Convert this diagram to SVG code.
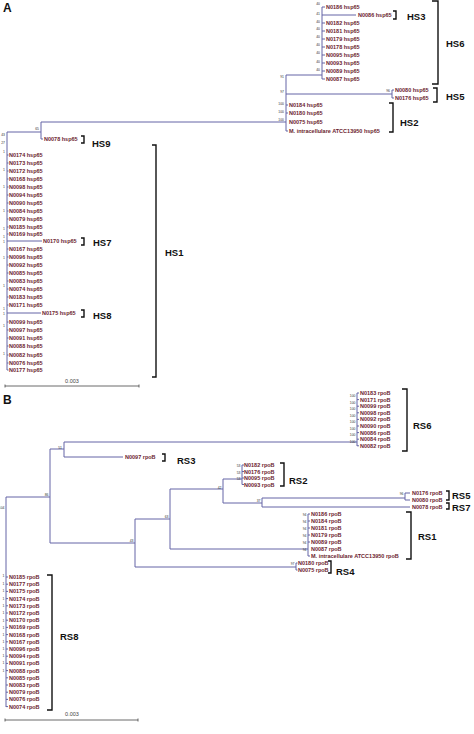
<svg xmlns="http://www.w3.org/2000/svg" width="474" height="734" viewBox="0 0 474 734">
<style>
.br{fill:none;stroke:#6464a6;stroke-width:1}
.bk{fill:none;stroke:#111;stroke-width:1.4}
.lf{font-family:"Liberation Sans",Arial,sans-serif;font-size:5.5px;font-weight:bold;fill:#6b1d2e}
.bs{font-family:"Liberation Sans",Arial,sans-serif;font-size:3.4px;fill:#333;text-anchor:end}
.cl{font-family:"Liberation Sans",Arial,sans-serif;font-size:9.5px;font-weight:bold;fill:#111}
.pn{font-family:"Liberation Sans",Arial,sans-serif;font-size:12px;font-weight:bold;fill:#111}
.sc{font-family:"Liberation Sans",Arial,sans-serif;font-size:5.5px;fill:#444;text-anchor:middle}
.sb{fill:none;stroke:#444;stroke-width:0.8}
</style>
<rect width="474" height="734" fill="#fff"/>
<text class="pn" x="3" y="12">A</text>
<text class="pn" x="3" y="404">B</text>

<g id="connectors">
<!-- Panel A -->
<path class="br" d="M7,132V370 M7,132H41 M41,122V139 M41,139H43 M41,122H286 M286,75V131 M286,75H322 M322,7V79 M322,15H356 M286,94H392 M392,90V98"/>
<path class="br" d="M322,7H325 M322,23H325 M322,31H325 M322,39H325 M322,47H325 M322,55H325 M322,63H325 M322,71H325 M322,79H325 M392,90H394 M392,98H394 M286,105H288 M286,113H288 M286,131H288"/>
<path class="br" d="M7,155H8.5 M7,163H8.5 M7,171H8.5 M7,179H8.5 M7,187H8.5 M7,195H8.5 M7,203H8.5 M7,211H8.5 M7,219H8.5 M7,227H8.5 M7,234H8.5 M7,241H42 M7,249H8.5 M7,257H8.5 M7,265H8.5 M7,273H8.5 M7,281H8.5 M7,289H8.5 M7,297H8.5 M7,305H8.5 M7,313H41 M7,322H8.5 M7,330H8.5 M7,338H8.5 M7,346H8.5 M7,355H8.5 M7,363H8.5 M7,370H8.5"/>
<!-- Panel B -->
<path class="br" d="M6,497V707 M6,497H50 M50,449V543 M50,449H64 M64,442V457 M64,442H357 M64,457H123 M357,393V446 M50,543H135 M135,519V567 M135,519H170 M135,567H296 M296,563V570 M170,489V549 M170,549H308 M308,514V556 M170,489H223 M223,479V503 M223,479H242 M242,465V484.5 M223,503H262 M262,498V507 M262,498H405 M405,493V500 M262,507H410"/>
<path class="br" d="M357,393H359 M357,399.6H359 M357,406.2H359 M357,412.8H359 M357,419.4H359 M357,426H359 M357,432.6H359 M357,439.2H359 M357,445.8H359 M242,465H244 M242,471.5H244 M242,478H244 M242,484.5H244 M405,493H410 M405,500H410 M308,514H310 M308,521H310 M308,528H310 M308,535H310 M308,542H310 M308,556H310 M296,563H297.5 M296,570H297.5"/>
<path class="br" d="M6,577H8 M6,584.2H8 M6,591.4H8 M6,598.6H8 M6,605.8H8 M6,613H8 M6,620.2H8 M6,627.4H8 M6,634.6H8 M6,641.8H8 M6,649H8 M6,656.2H8 M6,663.4H8 M6,670.6H8 M6,677.8H8 M6,685H8 M6,692.2H8 M6,699.4H8 M6,706.6H8"/>
</g>

<g id="scalebars">
<path class="sb" d="M5,386H139 M5,384.5V387.5 M139,384.5V387.5"/>
<text class="sc" x="72" y="383">0.003</text>
<path class="sb" d="M5,720H138 M5,718.5V721.5 M138,718.5V721.5"/>
<text class="sc" x="72" y="716">0.003</text>
</g>

<g id="bootstrapA">
<text class="bs" x="320" y="5">40</text>
<text class="bs" x="320" y="15">41</text>
<text class="bs" x="320" y="23">40</text>
<text class="bs" x="320" y="30">40</text>
<text class="bs" x="320" y="38">40</text>
<text class="bs" x="320" y="46">40</text>
<text class="bs" x="320" y="54">40</text>
<text class="bs" x="320" y="63">40</text>
<text class="bs" x="320" y="71">40</text>
<text class="bs" x="284" y="78">91</text>
<text class="bs" x="284" y="93">97</text>
<text class="bs" x="284" y="105">100</text>
<text class="bs" x="284" y="113">100</text>
<text class="bs" x="284" y="121">100</text>
<text class="bs" x="390" y="92">96</text>
<text class="bs" x="39" y="130">65</text>
<text class="bs" x="5" y="136">43</text>
<text class="bs" x="5" y="144">27</text>
<text class="bs" x="5" y="153">1</text>
<text class="bs" x="5" y="171">1</text>
<text class="bs" x="5" y="188">1</text>
<text class="bs" x="5" y="212">1</text>
<text class="bs" x="5" y="230">1</text>
<text class="bs" x="5" y="238">1</text>
<text class="bs" x="5" y="243">1</text>
<text class="bs" x="5" y="259">1</text>
<text class="bs" x="5" y="287">1</text>
<text class="bs" x="5" y="310">1</text>
<text class="bs" x="5" y="315">1</text>
<text class="bs" x="5" y="327">1</text>
<text class="bs" x="5" y="355">1</text>
</g>

<g id="bootstrapB">
<text class="bs" x="355.5" y="397">100</text>
<text class="bs" x="355.5" y="403.5">100</text>
<text class="bs" x="355.5" y="410">100</text>
<text class="bs" x="355.5" y="416.5">100</text>
<text class="bs" x="355.5" y="423">100</text>
<text class="bs" x="355.5" y="429.5">100</text>
<text class="bs" x="355.5" y="436">100</text>
<text class="bs" x="355.5" y="442.5">100</text>
<text class="bs" x="62" y="449">51</text>
<text class="bs" x="48.5" y="496">86</text>
<text class="bs" x="133.5" y="542">43</text>
<text class="bs" x="168.5" y="518">63</text>
<text class="bs" x="221.5" y="489">42</text>
<text class="bs" x="260.5" y="502">37</text>
<text class="bs" x="240.5" y="467">53</text>
<text class="bs" x="240.5" y="473.5">53</text>
<text class="bs" x="240.5" y="480">53</text>
<text class="bs" x="403.5" y="495">96</text>
<text class="bs" x="306.5" y="516">94</text>
<text class="bs" x="306.5" y="523">94</text>
<text class="bs" x="306.5" y="530">94</text>
<text class="bs" x="306.5" y="537">94</text>
<text class="bs" x="306.5" y="544">94</text>
<text class="bs" x="306.5" y="551">94</text>
<text class="bs" x="294.5" y="565">97</text>
<text class="bs" x="4.5" y="509">104</text>
<text class="bs" x="4.5" y="577">1</text>
<text class="bs" x="4.5" y="585">1</text>
<text class="bs" x="4.5" y="592">1</text>
<text class="bs" x="4.5" y="600">1</text>
<text class="bs" x="4.5" y="607">1</text>
<text class="bs" x="4.5" y="614">1</text>
<text class="bs" x="4.5" y="622">1</text>
<text class="bs" x="4.5" y="629">1</text>
<text class="bs" x="4.5" y="636">1</text>
<text class="bs" x="4.5" y="643">1</text>
<text class="bs" x="4.5" y="650">1</text>
<text class="bs" x="4.5" y="657">1</text>
<text class="bs" x="4.5" y="664">1</text>
<text class="bs" x="4.5" y="672">1</text>
</g>

<!-- Panel A leaves -->
<g id="A_HS6">
<text class="lf" x="326" y="9">N0186 hsp65</text>
<text class="lf" x="358" y="17">N0086 hsp65</text>
<text class="lf" x="326" y="25">N0182 hsp65</text>
<text class="lf" x="326" y="33">N0181 hsp65</text>
<text class="lf" x="326" y="41">N0179 hsp65</text>
<text class="lf" x="326" y="49">N0178 hsp65</text>
<text class="lf" x="326" y="57">N0095 hsp65</text>
<text class="lf" x="326" y="65">N0093 hsp65</text>
<text class="lf" x="326" y="73">N0089 hsp65</text>
<text class="lf" x="326" y="81">N0087 hsp65</text>
</g>
<g id="A_HS5">
<text class="lf" x="395" y="92">N0080 hsp65</text>
<text class="lf" x="395" y="100">N0176 hsp65</text>
</g>
<g id="A_HS2">
<text class="lf" x="289" y="107">N0184 hsp65</text>
<text class="lf" x="289" y="115">N0180 hsp65</text>
<text class="lf" x="289" y="124">N0075 hsp65</text>
<text class="lf" x="289" y="133">M. intracellulare ATCC13950 hsp65</text>
</g>
<g id="A_HS9"><text class="lf" x="44" y="141">N0078 hsp65</text></g>
<g id="A_HS1">
<text class="lf" x="9" y="157">N0174 hsp65</text>
<text class="lf" x="9" y="165">N0173 hsp65</text>
<text class="lf" x="9" y="173">N0172 hsp65</text>
<text class="lf" x="9" y="181">N0168 hsp65</text>
<text class="lf" x="9" y="189">N0098 hsp65</text>
<text class="lf" x="9" y="197">N0094 hsp65</text>
<text class="lf" x="9" y="205">N0090 hsp65</text>
<text class="lf" x="9" y="213">N0084 hsp65</text>
<text class="lf" x="9" y="221">N0079 hsp65</text>
<text class="lf" x="9" y="229">N0185 hsp65</text>
<text class="lf" x="9" y="236">N0169 hsp65</text>
<text class="lf" x="43" y="243">N0170 hsp65</text>
<text class="lf" x="9" y="251">N0167 hsp65</text>
<text class="lf" x="9" y="259">N0096 hsp65</text>
<text class="lf" x="9" y="267">N0092 hsp65</text>
<text class="lf" x="9" y="275">N0085 hsp65</text>
<text class="lf" x="9" y="283">N0083 hsp65</text>
<text class="lf" x="9" y="291">N0074 hsp65</text>
<text class="lf" x="9" y="299">N0183 hsp65</text>
<text class="lf" x="9" y="307">N0171 hsp65</text>
<text class="lf" x="42" y="315">N0175 hsp65</text>
<text class="lf" x="9" y="324">N0099 hsp65</text>
<text class="lf" x="9" y="332">N0097 hsp65</text>
<text class="lf" x="9" y="340">N0091 hsp65</text>
<text class="lf" x="9" y="348">N0088 hsp65</text>
<text class="lf" x="9" y="357">N0082 hsp65</text>
<text class="lf" x="9" y="365">N0076 hsp65</text>
<text class="lf" x="9" y="372">N0177 hsp65</text>
</g>

<!-- Panel A clade brackets -->
<g id="HS3"><path class="bk" d="M393,11H396V19H393"/><text class="cl" x="407" y="19.5">HS3</text></g>
<g id="HS6"><path class="bk" d="M432,1H438V84H432"/><text class="cl" x="446" y="47">HS6</text></g>
<g id="HS5"><path class="bk" d="M433,88H437V102H433"/><text class="cl" x="446" y="100">HS5</text></g>
<g id="HS2"><path class="bk" d="M389,103H393V132H389"/><text class="cl" x="400" y="126">HS2</text></g>
<g id="HS9"><path class="bk" d="M81,136H84V143H81"/><text class="cl" x="92" y="147">HS9</text></g>
<g id="HS7"><path class="bk" d="M81,238H84V245H81"/><text class="cl" x="93" y="246">HS7</text></g>
<g id="HS8"><path class="bk" d="M81,310H84V317H81"/><text class="cl" x="93" y="319">HS8</text></g>
<g id="HS1"><path class="bk" d="M152,145H156V377H152"/><text class="cl" x="165" y="256">HS1</text></g>

<!-- Panel B leaves -->
<g id="B_RS6">
<text class="lf" x="360" y="395">N0183 rpoB</text>
<text class="lf" x="360" y="401.6">N0171 rpoB</text>
<text class="lf" x="360" y="408.2">N0099 rpoB</text>
<text class="lf" x="360" y="414.8">N0098 rpoB</text>
<text class="lf" x="360" y="421.4">N0092 rpoB</text>
<text class="lf" x="360" y="428">N0090 rpoB</text>
<text class="lf" x="360" y="434.6">N0086 rpoB</text>
<text class="lf" x="360" y="441.2">N0084 rpoB</text>
<text class="lf" x="360" y="447.8">N0082 rpoB</text>
</g>
<g id="B_RS3"><text class="lf" x="125" y="459">N0097 rpoB</text></g>
<g id="B_RS2">
<text class="lf" x="244" y="467">N0182 rpoB</text>
<text class="lf" x="244" y="473.5">N0176 rpoB</text>
<text class="lf" x="244" y="480">N0095 rpoB</text>
<text class="lf" x="244" y="486.5">N0093 rpoB</text>
</g>
<g id="B_RS5">
<text class="lf" x="412" y="495">N0176 rpoB</text>
<text class="lf" x="412" y="502">N0080 rpoB</text>
</g>
<g id="B_RS7"><text class="lf" x="412" y="509">N0078 rpoB</text></g>
<g id="B_RS1">
<text class="lf" x="311" y="516">N0186 rpoB</text>
<text class="lf" x="311" y="523">N0184 rpoB</text>
<text class="lf" x="311" y="530">N0181 rpoB</text>
<text class="lf" x="311" y="537">N0179 rpoB</text>
<text class="lf" x="311" y="544">N0089 rpoB</text>
<text class="lf" x="311" y="551">N0087 rpoB</text>
<text class="lf" x="311" y="558">M. intracellulare ATCC13950 rpoB</text>
</g>
<g id="B_RS4">
<text class="lf" x="298" y="565">N0180 rpoB</text>
<text class="lf" x="298" y="572">N0075 rpoB</text>
</g>
<g id="B_RS8">
<text class="lf" x="9" y="579">N0185 rpoB</text>
<text class="lf" x="9" y="586.2">N0177 rpoB</text>
<text class="lf" x="9" y="593.4">N0175 rpoB</text>
<text class="lf" x="9" y="600.6">N0174 rpoB</text>
<text class="lf" x="9" y="607.8">N0173 rpoB</text>
<text class="lf" x="9" y="615">N0172 rpoB</text>
<text class="lf" x="9" y="622.2">N0170 rpoB</text>
<text class="lf" x="9" y="629.4">N0169 rpoB</text>
<text class="lf" x="9" y="636.6">N0168 rpoB</text>
<text class="lf" x="9" y="643.8">N0167 rpoB</text>
<text class="lf" x="9" y="651">N0096 rpoB</text>
<text class="lf" x="9" y="658.2">N0094 rpoB</text>
<text class="lf" x="9" y="665.4">N0091 rpoB</text>
<text class="lf" x="9" y="672.6">N0088 rpoB</text>
<text class="lf" x="9" y="679.8">N0085 rpoB</text>
<text class="lf" x="9" y="687">N0083 rpoB</text>
<text class="lf" x="9" y="694.2">N0079 rpoB</text>
<text class="lf" x="9" y="701.4">N0076 rpoB</text>
<text class="lf" x="9" y="708.6">N0074 rpoB</text>
</g>

<!-- Panel B clade brackets -->
<g id="RS6"><path class="bk" d="M402,389H407V451H402"/><text class="cl" x="413" y="429">RS6</text></g>
<g id="RS3"><path class="bk" d="M162,454H165V461H162"/><text class="cl" x="177" y="464">RS3</text></g>
<g id="RS2"><path class="bk" d="M280,463H284V486H280"/><text class="cl" x="289" y="484">RS2</text></g>
<g id="RS5"><path class="bk" d="M446,491H449V500H446"/><text class="cl" x="452" y="499">RS5</text></g>
<g id="RS7"><path class="bk" d="M446,503H449V509H446"/><text class="cl" x="452" y="511">RS7</text></g>
<g id="RS1"><path class="bk" d="M406,512H411V559H406"/><text class="cl" x="418" y="540">RS1</text></g>
<g id="RS4"><path class="bk" d="M328,561H331V573H328"/><text class="cl" x="336" y="575">RS4</text></g>
<g id="RS8"><path class="bk" d="M47,575H52V710H47"/><text class="cl" x="60" y="640">RS8</text></g>
</svg>
